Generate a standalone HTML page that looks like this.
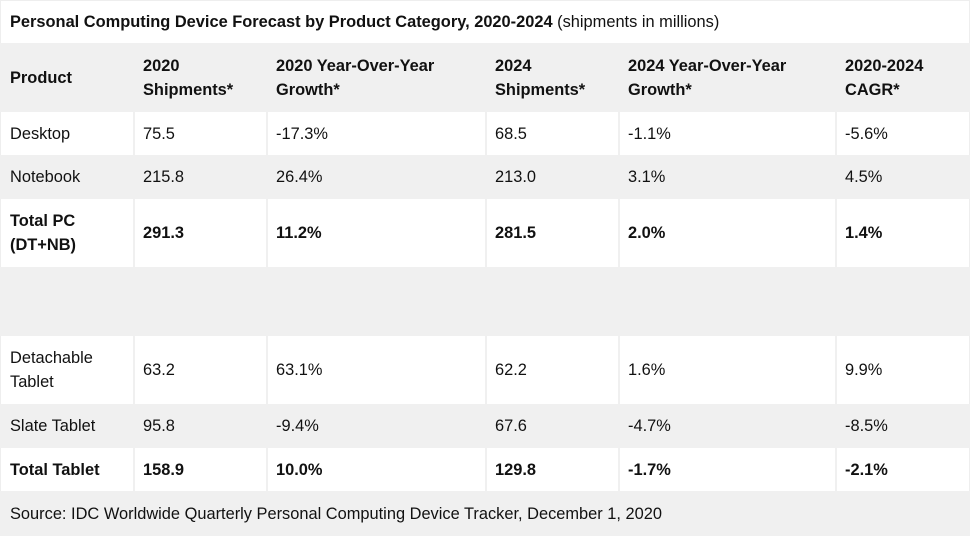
<!DOCTYPE html>
<html><head><meta charset="utf-8"><style>
*{margin:0;padding:0;box-sizing:border-box}
body{width:970px;height:536px;position:relative;background:#fff;font-family:"Liberation Sans","DejaVu Sans",sans-serif;font-size:16.4px;color:#111;overflow:hidden}
.r{position:absolute;left:0;width:970px}
.g{background:#f0f0f0}
.w{background:#fff;box-shadow:inset 1px 0 0 #eee,inset -1px 0 0 #eee}
.c{position:absolute;top:0;height:100%;display:flex;align-items:center;padding-left:10px;line-height:24px}
.w .c+.c{box-shadow:inset 2px 0 0 #f0f0f0}
b{font-weight:bold}
</style></head><body>
<div class="r w" style="top:0;height:43px;box-shadow:inset 1px 1px 0 #eee,inset -1px 0 0 #eee"><div class="c" style="left:0;padding-left:10px"><span><b>Personal Computing Device Forecast by Product Category, 2020-2024</b> (shipments in millions)</span></div></div>
<div class="r g" style="top:43px;height:69px;font-weight:bold">
<div class="c" style="left:0">Product</div><div class="c" style="left:133px">2020<br>Shipments*</div><div class="c" style="left:266px">2020 Year-Over-Year<br>Growth*</div><div class="c" style="left:485px">2024<br>Shipments*</div><div class="c" style="left:618px">2024 Year-Over-Year<br>Growth*</div><div class="c" style="left:835px">2020-2024<br>CAGR*</div></div>
<div class="r w" style="top:112px;height:43px">
<div class="c" style="left:0">Desktop</div><div class="c" style="left:133px">75.5</div><div class="c" style="left:266px">-17.3%</div><div class="c" style="left:485px">68.5</div><div class="c" style="left:618px">-1.1%</div><div class="c" style="left:835px">-5.6%</div></div>
<div class="r g" style="top:155px;height:44px">
<div class="c" style="left:0">Notebook</div><div class="c" style="left:133px">215.8</div><div class="c" style="left:266px">26.4%</div><div class="c" style="left:485px">213.0</div><div class="c" style="left:618px">3.1%</div><div class="c" style="left:835px">4.5%</div></div>
<div class="r w" style="top:199px;height:68px;font-weight:bold">
<div class="c" style="left:0">Total PC<br>(DT+NB)</div><div class="c" style="left:133px">291.3</div><div class="c" style="left:266px">11.2%</div><div class="c" style="left:485px">281.5</div><div class="c" style="left:618px">2.0%</div><div class="c" style="left:835px">1.4%</div></div>
<div class="r g" style="top:267px;height:69px"></div>
<div class="r w" style="top:336px;height:68px">
<div class="c" style="left:0">Detachable<br>Tablet</div><div class="c" style="left:133px">63.2</div><div class="c" style="left:266px">63.1%</div><div class="c" style="left:485px">62.2</div><div class="c" style="left:618px">1.6%</div><div class="c" style="left:835px">9.9%</div></div>
<div class="r g" style="top:404px;height:44px">
<div class="c" style="left:0">Slate Tablet</div><div class="c" style="left:133px">95.8</div><div class="c" style="left:266px">-9.4%</div><div class="c" style="left:485px">67.6</div><div class="c" style="left:618px">-4.7%</div><div class="c" style="left:835px">-8.5%</div></div>
<div class="r w" style="top:448px;height:43px;font-weight:bold">
<div class="c" style="left:0">Total Tablet</div><div class="c" style="left:133px">158.9</div><div class="c" style="left:266px">10.0%</div><div class="c" style="left:485px">129.8</div><div class="c" style="left:618px">-1.7%</div><div class="c" style="left:835px">-2.1%</div></div>
<div class="r g" style="top:491px;height:45px">
<div class="c" style="left:0">Source: IDC Worldwide Quarterly Personal Computing Device Tracker, December 1, 2020</div></div>
</body></html>
